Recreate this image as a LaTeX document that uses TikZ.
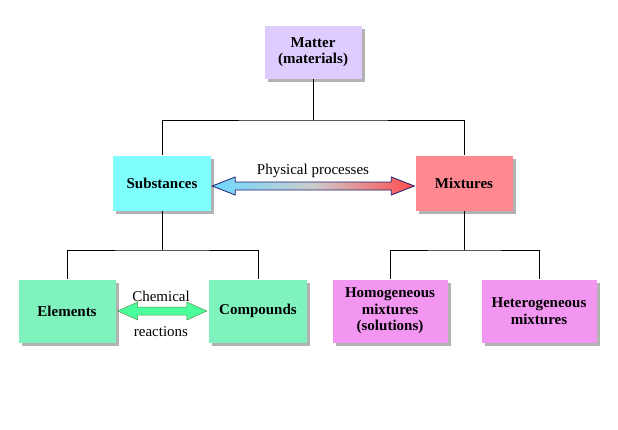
\documentclass[tikz,border=0pt]{standalone}
\usepackage{fontspec}
\setmainfont{Liberation Serif}
\usetikzlibrary{shadows,calc}
\definecolor{cmat}{RGB}{222,204,255}
\definecolor{csub}{RGB}{128,255,255}
\definecolor{cmix}{RGB}{255,136,145}
\definecolor{cgrn}{RGB}{128,242,190}
\definecolor{cpnk}{RGB}{242,150,242}
\definecolor{cnavy}{RGB}{30,30,110}
\tikzset{
  box/.style={minimum width=#1, minimum height=55pt, align=center, font=\bfseries\fontsize{15}{16.5}\selectfont, inner sep=1pt,
    drop shadow={shadow xshift=3pt, shadow yshift=-3pt, fill=black!30, opacity=1}},
  link/.style={draw=black, line width=0.6pt},
  lab/.style={font=\fontsize{15}{15}\selectfont}
}
\begin{document}
\begin{tikzpicture}[x=1pt,y=-1pt]
\useasboundingbox (0,0) rectangle (618,429);
\node[box=97pt, fill=cmat, minimum height=53pt] (mat) at (313,52) {Matter\\(materials)};
\node[box=98pt, fill=csub] (sub) at (162,183) {Substances};
\node[box=97pt, fill=cmix] (mix) at (464,183) {Mixtures};
\node[box=97pt, fill=cgrn, minimum height=63pt] (ele) at (67,311) {Elements};
\node[box=98pt, fill=cgrn, minimum height=63pt] (com) at (258,311) {Compounds};
\node[box=115pt, fill=cpnk, minimum height=63pt] (hom) at (390,311) {Homogeneous\\mixtures\\(solutions)};
\node[box=115pt, fill=cpnk, minimum height=63pt] (het) at (539,311) {Heterogeneous\\mixtures};
\coordinate (j1) at (313,120);
\coordinate (j2) at (162,250);
\coordinate (j3) at (464,250);
\draw[link] (mat.south) -- (j1);
\draw[link] (sub.north) |- (j1) -| (mix.north);
\draw[link] (sub.south) -- (j2);
\draw[link] (ele.north) |- (j2) -| (com.north);
\draw[link] (mix.south) -- (j3);
\draw[link] (hom.north) |- (j3) -| (het.north);
% physical processes arrow
\coordinate (pa1) at ($(sub.east)+(1,3)$);
\coordinate (pa2) at ($(mix.west)+(-1,3)$);
\draw[cnavy, line width=0.8pt, left color=csub!85!blue, right color=red!70, middle color=gray!40, shading angle=90]
  (pa1) -- ++(23,-9) -- ++(0,5) -| ($(pa2)+(-23,-4)$) -- ++(0,-5) -- (pa2)
  -- ++(-23,9) -- ++(0,-5) -| ($(pa1)+(23,4)$) -- ++(0,5) -- cycle;
\node[lab] (pl) at (313,171) {Physical processes};
% chemical reactions arrow
\coordinate (ca1) at ($(ele.east)+(2,0)$);
\coordinate (ca2) at ($(com.west)+(-2,0)$);
\draw[green!40!black!70, line width=0.5pt, fill=green!55!cyan!70!white]
  (ca1) -- ++(20,-9) -- ++(0,5) -| ($(ca2)+(-20,-4)$) -- ++(0,-5) -- (ca2)
  -- ++(-20,9) -- ++(0,-5) -| ($(ca1)+(20,4)$) -- ++(0,5) -- cycle;
\node[lab] (cl1) at (161,296) {Chemical};
\node[lab] (cl2) at (161,332) {reactions};
\end{tikzpicture}
\end{document}
